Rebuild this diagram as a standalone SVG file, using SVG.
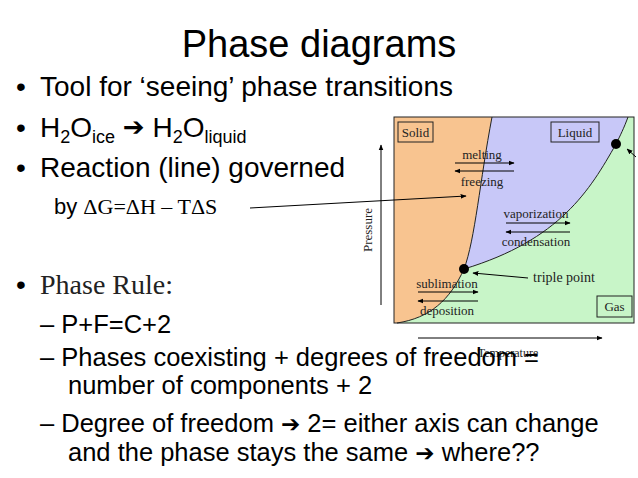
<svg xmlns="http://www.w3.org/2000/svg" width="638" height="478" viewBox="0 0 638 478">
<defs><marker id="a" viewBox="0 0 10 10" refX="9" refY="5" markerWidth="6" markerHeight="6" orient="auto"><path d="M0,1 L10,5 L0,9z" fill="#000"/></marker></defs>
<style>.t{font-family:"Liberation Sans",Arial,sans-serif;fill:#000}.s{font-family:"Liberation Serif",serif;fill:#222}.l{stroke:#222;stroke-width:1;fill:none}.ar{font-family:"DejaVu Sans",sans-serif;font-weight:bold}</style>
<rect width="638" height="478" fill="#fff"/>
<g id="plot">
<rect x="394" y="117" width="240" height="206" fill="#c8f5c8"/>
<path d="M394,117 L492,117 C480,180 475,240 464,269 C450,300 430,318 397,323 L394,323z" fill="#f8c490"/>
<path d="M492,117 L628,117 C624,128 620,136 616,144 C590,190 560,240 464,269 C475,240 480,180 492,117z" fill="#c8c8f8"/>
<path class="l" d="M492,117 C480,180 475,240 464,269 C450,300 430,318 397,323"/>
<path class="l" d="M464,269 C560,240 590,190 616,144 C620,136 624,128 628,117"/>
<rect x="394" y="117" width="240" height="206" class="l" stroke="#888"/>
<circle cx="464" cy="269" r="5"/><circle cx="616" cy="144" r="5"/>
<rect x="398" y="122" width="35" height="20" class="l" stroke="#555"/><text class="s" x="415.5" y="137" font-size="13" text-anchor="middle">Solid</text>
<rect x="551" y="122" width="48" height="20" class="l" stroke="#555"/><text class="s" x="575" y="137" font-size="13" text-anchor="middle">Liquid</text>
<rect x="597" y="296" width="35" height="21" class="l" stroke="#555"/><text class="s" x="614.5" y="311" font-size="13" text-anchor="middle">Gas</text>
<text class="s" x="482" y="159" font-size="13" text-anchor="middle">melting</text>
<text class="s" x="482" y="186" font-size="13" text-anchor="middle">freezing</text>
<text class="s" x="536" y="218" font-size="13" text-anchor="middle">vaporization</text>
<text class="s" x="536" y="246" font-size="13" text-anchor="middle">condensation</text>
<text class="s" x="564" y="282" font-size="14" text-anchor="middle">triple point</text>
<text class="s" x="447" y="288" font-size="13" text-anchor="middle">sublimation</text>
<text class="s" x="447" y="315" font-size="13" text-anchor="middle">deposition</text>
<text class="s" x="372" y="230" font-size="13" text-anchor="middle" transform="rotate(-90 372 230)">Pressure</text>
<text class="s" x="508" y="357" font-size="12" text-anchor="middle">Temperature</text>
</g>
<g id="connectors" stroke="#000" stroke-width="1">
<line x1="455" y1="163" x2="514" y2="163" marker-end="url(#a)"/>
<line x1="514" y1="171" x2="455" y2="171" marker-end="url(#a)"/>
<line x1="506" y1="223" x2="570" y2="223" marker-end="url(#a)"/>
<line x1="570" y1="232" x2="506" y2="232" marker-end="url(#a)"/>
<line x1="418" y1="292" x2="478" y2="292" marker-end="url(#a)"/>
<line x1="478" y1="301" x2="418" y2="301" marker-end="url(#a)"/>
<line x1="528" y1="278" x2="473" y2="273" marker-end="url(#a)"/>
<line x1="636" y1="157" x2="627" y2="149" marker-end="url(#a)"/>
<line x1="381" y1="305" x2="381" y2="145" marker-end="url(#a)"/>
<line x1="418" y1="338" x2="602" y2="338" marker-end="url(#a)"/>
<line x1="250" y1="208" x2="466" y2="196" marker-end="url(#a)"/>
</g>
<g id="text" class="t">
<text class="t" x="319" y="57" font-size="38" text-anchor="middle">Phase diagrams</text>
<text class="t" x="16" y="96" font-size="28">•</text><text class="t" x="40" y="96" font-size="28">Tool for ‘seeing’ phase transitions</text>
<text class="t" x="16" y="137" font-size="28">•</text><text class="t" x="40" y="137" font-size="28">H<tspan font-size="18" dy="6">2</tspan><tspan dy="-6">O</tspan><tspan font-size="18" dy="6">ice</tspan><tspan dy="-6"> </tspan><tspan class="ar" font-size="26" dy="-1">➔</tspan><tspan dy="1"> H</tspan><tspan font-size="18" dy="6">2</tspan><tspan dy="-6">O</tspan><tspan font-size="18" dy="6">liquid</tspan></text>
<text class="t" x="16" y="177" font-size="28">•</text><text class="t" x="40" y="177" font-size="28">Reaction (line) governed</text>
<text x="54" y="214" font-size="22"><tspan class="t">by </tspan><tspan font-family="Liberation Serif,serif">ΔG=ΔH – TΔS</tspan></text>
<text class="t" x="16" y="294" font-size="28">•</text><text x="40" y="294" font-size="28" font-family="Liberation Serif,serif" fill="#222">Phase Rule:</text>
<text class="t" x="40" y="333" font-size="25.5">– P+F=C+2</text>
<text class="t" x="40" y="366" font-size="25.5">– Phases coexisting + degrees of freedom =</text>
<text class="t" x="68" y="394" font-size="25.5">number of components + 2</text>
<text class="t" x="40" y="432" font-size="25.5">– Degree of freedom <tspan class="ar" font-size="23">➔</tspan> 2= either axis can change</text>
<text class="t" x="68" y="461" font-size="25.5">and the phase stays the same <tspan class="ar" font-size="23">➔</tspan> where??</text>
</g>
</svg>
